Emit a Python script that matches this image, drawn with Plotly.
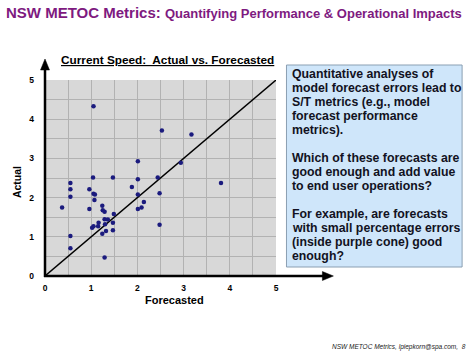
import plotly.graph_objects as go

# ---------------- data ----------------
forecasted = [1.05, 2.53, 3.17, 2.01, 2.94, 0.55, 1.04, 1.47, 2.01, 2.44, 1.88, 3.81,
              0.55, 0.96, 0.55, 0.37, 1.05, 1.08, 1.07, 2.01, 2.48, 2.14, 2.09, 2.01,
              0.96, 1.24, 1.25, 1.29, 1.49, 1.29, 1.36, 1.47, 1.16, 1.30, 1.15, 1.05,
              1.02, 2.48, 1.47, 1.32, 1.24, 0.55, 0.55, 1.29]
actual = [4.33, 3.71, 3.61, 2.93, 2.89, 2.37, 2.51, 2.51, 2.47, 2.51, 2.27, 2.37,
          2.21, 2.21, 2.02, 1.75, 2.10, 2.08, 1.94, 2.08, 2.11, 1.89, 1.75, 1.71,
          1.71, 1.79, 1.68, 1.64, 1.58, 1.45, 1.44, 1.36, 1.36, 1.32, 1.27, 1.27,
          1.23, 1.31, 1.17, 1.15, 1.08, 1.02, 0.71, 0.47]
diag_x = [0, 5]
diag_y = [0, 5]
tick_vals = [0, 1, 2, 3, 4, 5]
tick_text = ["0", "1", "2", "3", "4", "5"]

title_main = "NSW METOC Metrics:"
title_sub = "Quantifying Performance &amp; Operational Impacts"
chart_title = "Current Speed:  Actual vs. Forecasted"
x_label = "Forecasted"
y_label = "Actual"
box_lines = ["Quantitative analyses of", "model forecast errors lead to",
             "S/T metrics (e.g., model", "forecast performance", "metrics).", "",
             "Which of these forecasts are", "good enough and add value",
             "to end user operations?", "",
             "For example, are forecasts", "with small percentage errors",
             "(inside purple cone) good", "enough?"]
footer = "NSW METOC Metrics, lpiepkorn@spa.com,  8"

# ---------------- layout geometry (pixels) ----------------
WIDTH, HEIGHT = 474, 355
L, R, T, B = 45, 276.5, 80, 276
PW, PH = R - L, B - T


def px(x):
    return (x - L) / PW


def py(y):
    return (B - y) / PH


FONT = "Arial, Liberation Sans, Helvetica, sans-serif"
PURPLE = "#7E1A80"

fig = go.Figure()
fig.add_trace(go.Scatter(x=diag_x, y=diag_y, mode="lines",
                         line=dict(color="black", width=1.4),
                         hoverinfo="skip", showlegend=False))
fig.add_trace(go.Scatter(x=forecasted, y=actual, mode="markers",
                         marker=dict(color="#1B1B7E", size=4.5),
                         showlegend=False))

shapes = []
# text box
shapes.append(dict(type="rect", xref="paper", yref="paper",
                   x0=px(287), x1=px(463), y0=py(267), y1=py(65),
                   fillcolor="#CFE6FA", line=dict(color="#8A9FB2", width=1), layer="below"))
# y axis arrow
shapes.append(dict(type="line", xref="paper", yref="paper",
                   x0=px(45), x1=px(45), y0=py(277), y1=py(68),
                   line=dict(color="black", width=2.5)))
shapes.append(dict(type="path", xref="paper", yref="paper",
                   path=f"M {px(45)} {py(59)} L {px(40.5)} {py(70)} L {px(49.5)} {py(70)} Z",
                   fillcolor="black", line=dict(color="black", width=0.5)))
# x axis arrow
shapes.append(dict(type="line", xref="paper", yref="paper",
                   x0=px(44), x1=px(325), y0=py(276), y1=py(276),
                   line=dict(color="black", width=2.5)))
shapes.append(dict(type="path", xref="paper", yref="paper",
                   path=f"M {px(334)} {py(276)} L {px(323)} {py(271.5)} L {px(323)} {py(280.5)} Z",
                   fillcolor="black", line=dict(color="black", width=0.5)))

ann = []
ann.append(dict(xref="paper", yref="paper", x=px(4), y=py(12), xanchor="left", yanchor="middle",
                text=f"<b>{title_main} <span style='font-size:13px'>{title_sub}</span></b>",
                showarrow=False, font=dict(family=FONT, size=15, color=PURPLE)))
ann.append(dict(xref="paper", yref="paper", x=px(167.5), y=py(59.5), xanchor="center", yanchor="middle",
                text=f"<b><u>{chart_title}</u></b>", showarrow=False,
                font=dict(family=FONT, size=11.8, color="black")))
ann.append(dict(xref="paper", yref="paper", x=px(175), y=py(300), xanchor="center", yanchor="middle",
                text=f"<b>{x_label}</b>", showarrow=False,
                font=dict(family=FONT, size=11, color="black")))
ann.append(dict(xref="paper", yref="paper", x=px(17), y=py(182), xanchor="center", yanchor="middle",
                text=f"<b>{y_label}</b>", showarrow=False, textangle=-90,
                font=dict(family=FONT, size=10.5, color="black")))
for i, line in enumerate(box_lines):
    if not line:
        continue
    ann.append(dict(xref="paper", yref="paper", x=px(291), y=py(74 + 14.0 * i),
                    xanchor="left", yanchor="middle", text=f"<b>{line}</b>", showarrow=False,
                    font=dict(family=FONT, size=12.3, color="#121222")))
ann.append(dict(xref="paper", yref="paper", x=px(469), y=py(347), xanchor="right", yanchor="middle",
                text=f"<i>{footer}</i>", showarrow=False,
                font=dict(family=FONT, size=6.5, color="#222222")))

axis_common = dict(range=[0, 5], tickvals=tick_vals, ticktext=tick_text,
                   showgrid=True, gridcolor="#B2B2B2", gridwidth=1,
                   minor=dict(dtick=0.5, showgrid=True, gridcolor="#B2B2B2", gridwidth=1),
                   zeroline=False, showline=False, ticks="", fixedrange=True,
                   tickfont=dict(family=FONT, size=8.5, color="black", weight="bold"))

fig.update_layout(
    width=WIDTH, height=HEIGHT, autosize=False,
    margin=dict(l=L, r=WIDTH - R, t=T, b=HEIGHT - B, pad=0),
    paper_bgcolor="white", plot_bgcolor="#D8D8D8",
    xaxis=dict(**axis_common, ticklabelstandoff=5),
    yaxis=dict(**axis_common, ticklabelstandoff=10),
    shapes=shapes, annotations=ann, showlegend=False,
)

fig.write_html("out.html", config={"displayModeBar": False},
               post_script="document.body.style.margin='0';document.body.style.overflow='hidden';")
